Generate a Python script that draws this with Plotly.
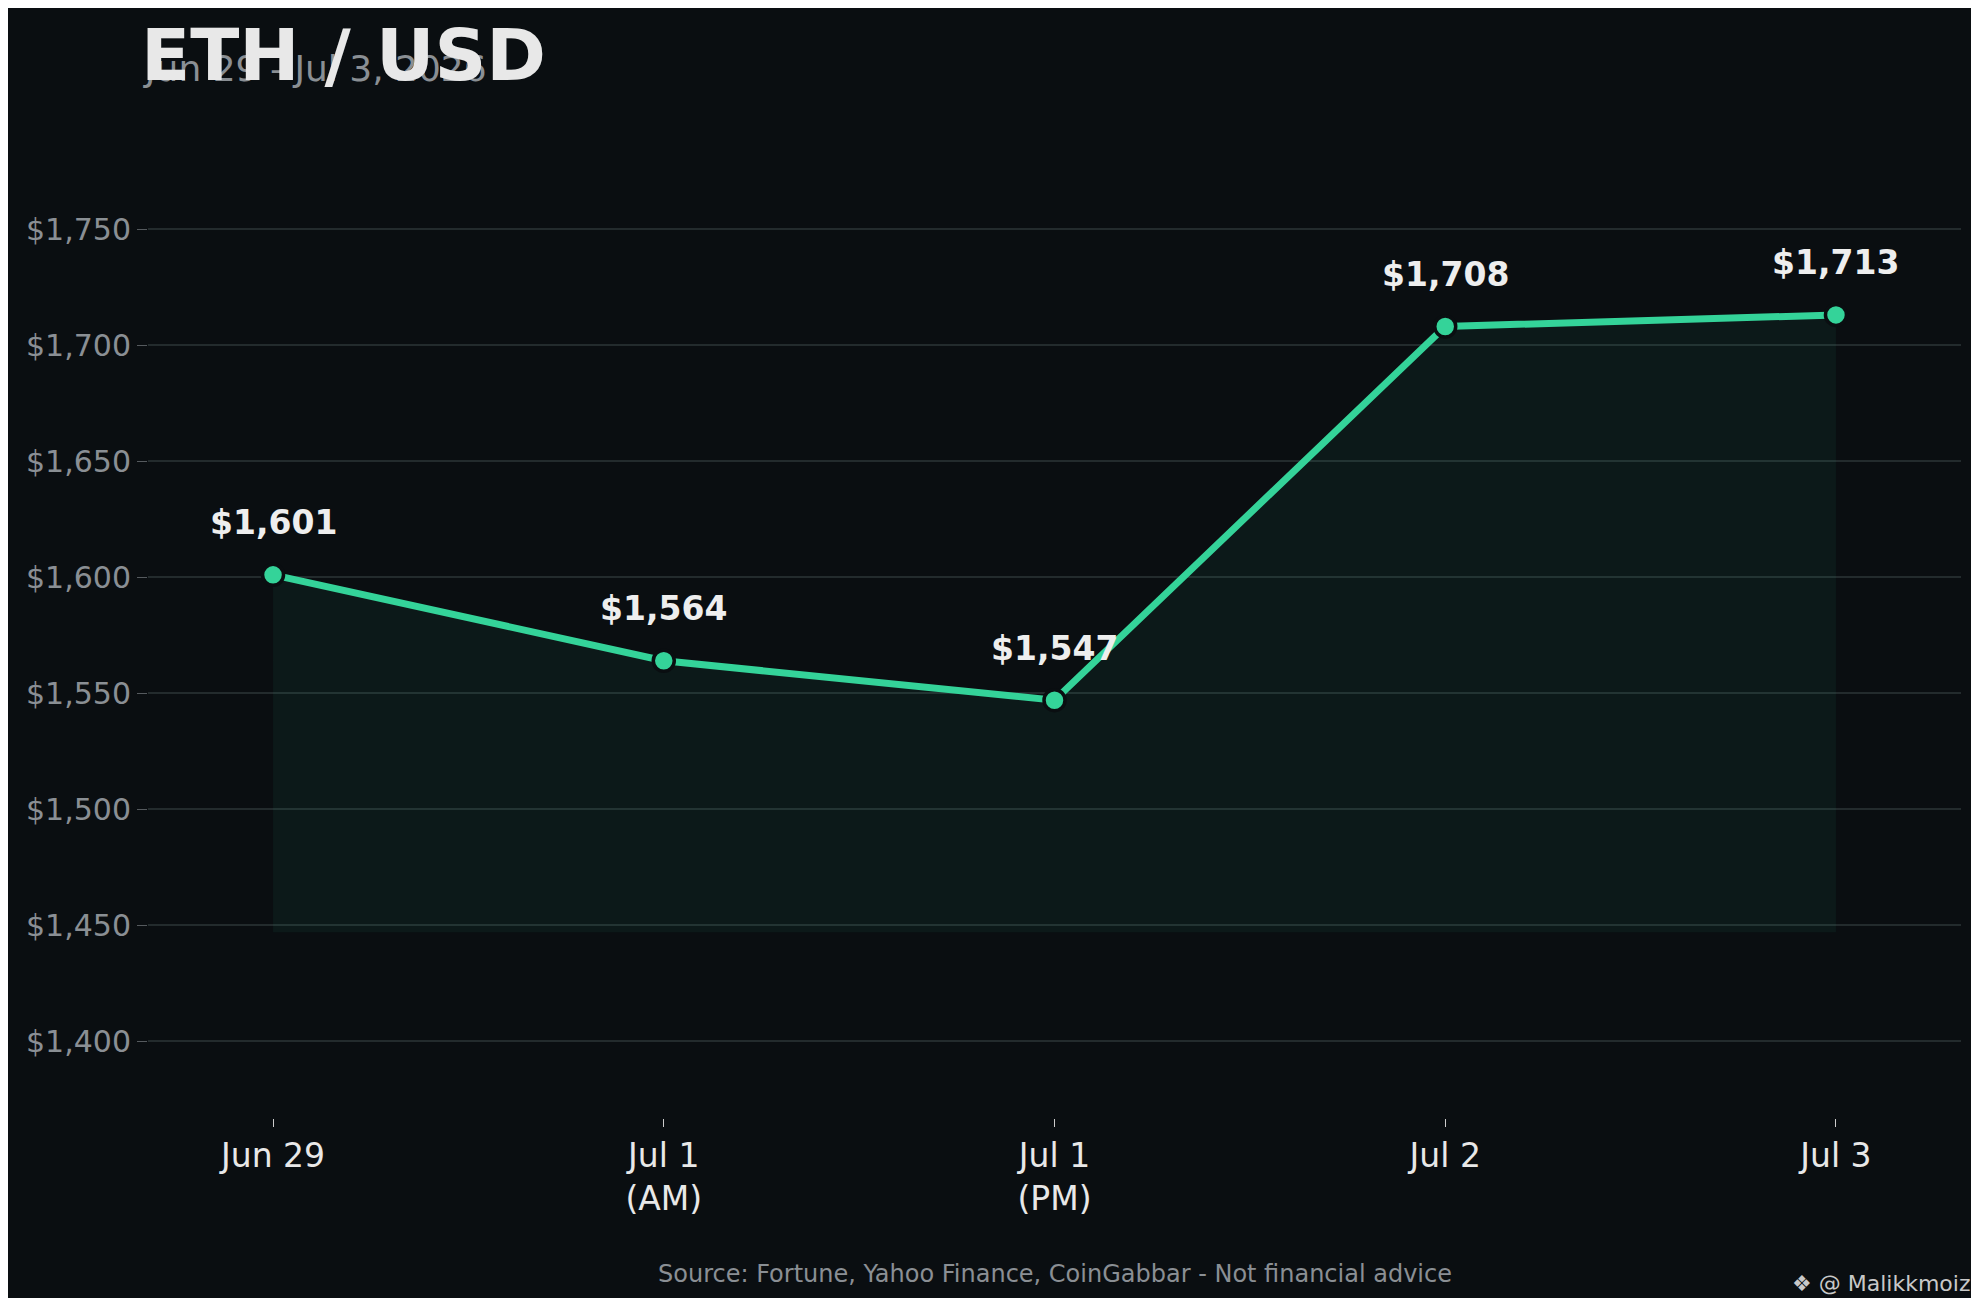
import plotly.graph_objects as go

dates = ["Jun 29", "Jul 1<br>(AM)", "Jul 1<br>(PM)", "Jul 2", "Jul 3"]
prices = [1601, 1564, 1547, 1708, 1713]
y_ticks = [1400, 1450, 1500, 1550, 1600, 1650, 1700, 1750]
fill_base = 1447

BG = "#0a0e11"
GREEN = "#34d399"
FONT = "DejaVu Sans"

xs = list(range(len(dates)))

fig = go.Figure()
fig.add_trace(go.Scatter(x=xs, y=[fill_base] * len(xs), mode="lines",
                         line=dict(width=0), hoverinfo="skip", showlegend=False))
fig.add_trace(go.Scatter(
    x=xs, y=prices, mode="lines+markers", fill="tonexty",
    fillcolor="rgba(52,211,153,0.06)",
    line=dict(color=GREEN, width=7),
    marker=dict(size=21, color=GREEN, line=dict(color="#0a0e11", width=3.5)),
    showlegend=False))

for x, p in zip(xs, prices):
    fig.add_annotation(x=x, y=p, text=f"<b>${p:,}</b>", showarrow=False,
                       yshift=52, font=dict(size=33, color="#eeeeee", family=FONT))

fig.add_annotation(xref="paper", yref="paper", x=0.5, y=-0.165, yanchor="middle",
                   showarrow=False,
                   text="Source: Fortune, Yahoo Finance, CoinGabbar - Not financial advice",
                   font=dict(size=24, color="#8a8f94", family=FONT))
fig.add_annotation(xref="paper", yref="paper", x=1.006, y=-0.175, xanchor="right",
                   yanchor="middle", showarrow=False, text="❖ @ Malikkmoiz",
                   font=dict(size=22, color="#c8c8c8", family=FONT))
fig.add_annotation(xref="paper", yref="paper", x=-0.004, y=1.108, xanchor="left",
                   yanchor="middle", showarrow=False, text="Jun 29 - Jul 3, 2026",
                   font=dict(size=36, color="#8a8f94", family=FONT))
fig.add_annotation(xref="paper", yref="paper", x=-0.005, y=1.123, xanchor="left",
                   yanchor="middle", showarrow=False, text="<b>ETH / USD</b>",
                   font=dict(size=72, color="#e8e8e8", family=FONT))

fig.update_layout(
    width=1965, height=1290, paper_bgcolor=BG, plot_bgcolor=BG,
    margin=dict(l=140, r=12, t=163, b=180),
    font=dict(family=FONT),
    xaxis=dict(tickvals=xs, ticktext=dates, range=[-0.32, 4.32], showgrid=False,
               zeroline=False, ticks="outside", ticklen=8, tickcolor="#cccccc",
               tickfont=dict(size=33, color="#e8e8e8")),
    yaxis=dict(tickvals=y_ticks, ticktext=[f"${v:,}" for v in y_ticks],
               range=[1367, 1775], gridcolor="#232b2d", gridwidth=1.5,
               zeroline=False, ticks="outside", ticklen=10, tickcolor="#555a5e",
               tickfont=dict(size=30, color="#8a8f94")),
)

fig.write_html("out.html")
